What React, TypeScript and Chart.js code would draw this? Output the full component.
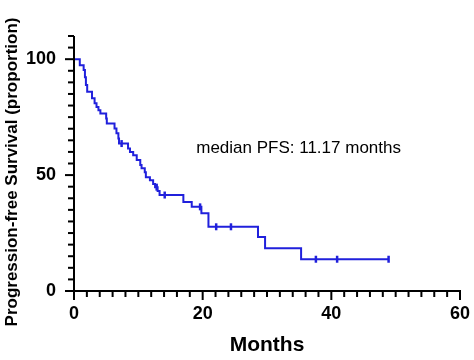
import React, { useEffect, useRef } from "react";
import { Chart, registerables } from "chart.js";

Chart.register(...registerables);

// Kaplan-Meier steps: time (months) and survival (%) after each event
const kmTimes = [0, 0.9, 1.5, 1.7, 1.85, 2.05, 2.8, 3.2, 3.5, 3.8, 4.1, 5.0, 5.1, 6.3, 6.6, 6.9, 7.0, 8.4, 8.7, 9.2, 9.75, 10.3, 10.5, 11.0, 11.17, 11.8, 12.3, 12.6, 13.0, 13.3, 17.0, 18.3, 19.8, 20.9, 28.6, 29.7, 35.3, 48.9];
const kmSurvival = [100, 97.4, 95.3, 92.2, 88.9, 86.0, 83.1, 81.0, 79.4, 78.0, 76.6, 74.4, 72.3, 70.1, 68.0, 65.8, 63.6, 61.5, 60.0, 58.6, 56.5, 54.3, 52.9, 51.2, 49.1, 47.8, 46.2, 44.8, 43.1, 41.4, 38.4, 36.3, 33.5, 27.7, 23.3, 18.4, 13.7, 13.7];

// Censored observations
const censorTimes = [7.4, 12.85, 14.1, 19.6, 22.1, 24.4, 37.6, 40.9, 48.9];
const censorSurvival = [63.6, 44.8, 41.4, 36.3, 27.7, 27.7, 13.7, 13.7, 13.7];

const xMajorTicks = [0, 20, 40, 60];
const yMajorTicks = [0, 50, 100];
const xMin = 0, xMax = 60, xMinorStep = 2;
const yMin = 0, yMax = 110, yMinorStep = 5;

const xTitle = "Months";
const yTitle = "Progression-free Survival (proportion)";
const annotationText = "median PFS: 11.17 months";
const annotationX = 19.0; // months
const annotationY = 61.6; // %

const FONT = "'Liberation Sans', Arial, Helvetica, sans-serif";
const LINE_COLOR = "#2020dc";

const decorPlugin = {
  id: "decor",
  afterDraw(chart: any) {
    const ctx = chart.ctx;
    const area = chart.chartArea;
    const x = chart.scales.x;
    const y = chart.scales.y;
    ctx.save();
    ctx.fillStyle = "#000";
    let v = xMin;
    while (v <= xMax) {
      const px = x.getPixelForValue(v);
      const len = xMajorTicks.indexOf(v) >= 0 ? 9 : 6;
      ctx.fillRect(px - 1, area.bottom, 2, len);
      v = v + xMinorStep;
    }
    let w = yMin;
    while (w <= yMax) {
      const py = y.getPixelForValue(w);
      const len = yMajorTicks.indexOf(w) >= 0 ? 9 : 6;
      ctx.fillRect(area.left - len, py - 1, len, 2);
      w = w + yMinorStep;
    }
    // axis lines
    ctx.fillRect(area.left - 1, area.top, 2, area.bottom - area.top + 1);
    ctx.fillRect(area.left - 1, area.bottom - 1, area.right - area.left + 2, 2);

    // y axis title
    ctx.font = `bold 17px ${FONT}`;
    ctx.textAlign = "center";
    ctx.textBaseline = "middle";
    ctx.translate(12, 172);
    ctx.rotate(-Math.PI / 2);
    ctx.fillText(yTitle, 0, 0);
    ctx.restore();

    // annotation
    ctx.save();
    ctx.fillStyle = "#000";
    ctx.font = `17px ${FONT}`;
    ctx.textAlign = "left";
    ctx.textBaseline = "middle";
    ctx.fillText(annotationText, x.getPixelForValue(annotationX), y.getPixelForValue(annotationY));
    ctx.restore();
  },
};

export default function App() {
  const ref = useRef<HTMLCanvasElement>(null);
  useEffect(() => {
    if (!ref.current) return;
    Chart.defaults.font.family = FONT;
    const chart = new Chart(ref.current, {
      type: "scatter",
      data: {
        datasets: [
          {
            label: "PFS",
            data: kmTimes.map((t, i) => ({ x: t, y: kmSurvival[i] })),
            showLine: true,
            stepped: "before",
            borderColor: LINE_COLOR,
            borderWidth: 2,
            pointRadius: 0,
            fill: false,
          },
          {
            label: "Censored",
            data: censorTimes.map((t, i) => ({ x: t, y: censorSurvival[i] })),
            showLine: false,
            pointStyle: "line",
            rotation: 90,
            pointRadius: 3.5,
            borderColor: LINE_COLOR,
            borderWidth: 2.5,
          },
        ],
      },
      options: {
        responsive: false,
        animation: false,
        devicePixelRatio: 1,
        layout: { padding: { top: 36, right: 14, left: 0, bottom: 0 } },
        plugins: { legend: { display: false }, tooltip: { enabled: false } },
        scales: {
          x: {
            type: "linear",
            min: xMin,
            max: xMax,
            afterBuildTicks: (s: any) => {
              s.ticks = xMajorTicks.map((value) => ({ value }));
            },
            afterFit: (s: any) => {
              s.height = 69;
              s.paddingLeft = 0;
              s.paddingRight = 0;
            },
            ticks: {
              color: "#000",
              font: { size: 18, weight: "bold" },
              padding: 4,
              maxRotation: 0,
            },
            border: { display: false },
            grid: { display: false },
            title: {
              display: true,
              text: xTitle,
              color: "#000",
              font: { size: 21, weight: "bold" },
              padding: { top: 0, bottom: 2 },
            },
          },
          y: {
            type: "linear",
            min: yMin,
            max: yMax,
            afterBuildTicks: (s: any) => {
              s.ticks = yMajorTicks.map((value) => ({ value }));
            },
            afterFit: (s: any) => {
              s.width = 74;
              s.paddingTop = 0;
              s.paddingBottom = 0;
            },
            ticks: {
              color: "#000",
              font: { size: 18, weight: "bold" },
              padding: 10,
            },
            border: { display: false },
            grid: { display: false },
          },
        },
      },
      plugins: [decorPlugin],
    });
    return () => chart.destroy();
  }, []);
  return (
    <div style={{ position: "fixed", left: 0, top: 0, width: 474, height: 360, background: "#fff" }}>
      <canvas ref={ref} width={474} height={360} />
    </div>
  );
}
